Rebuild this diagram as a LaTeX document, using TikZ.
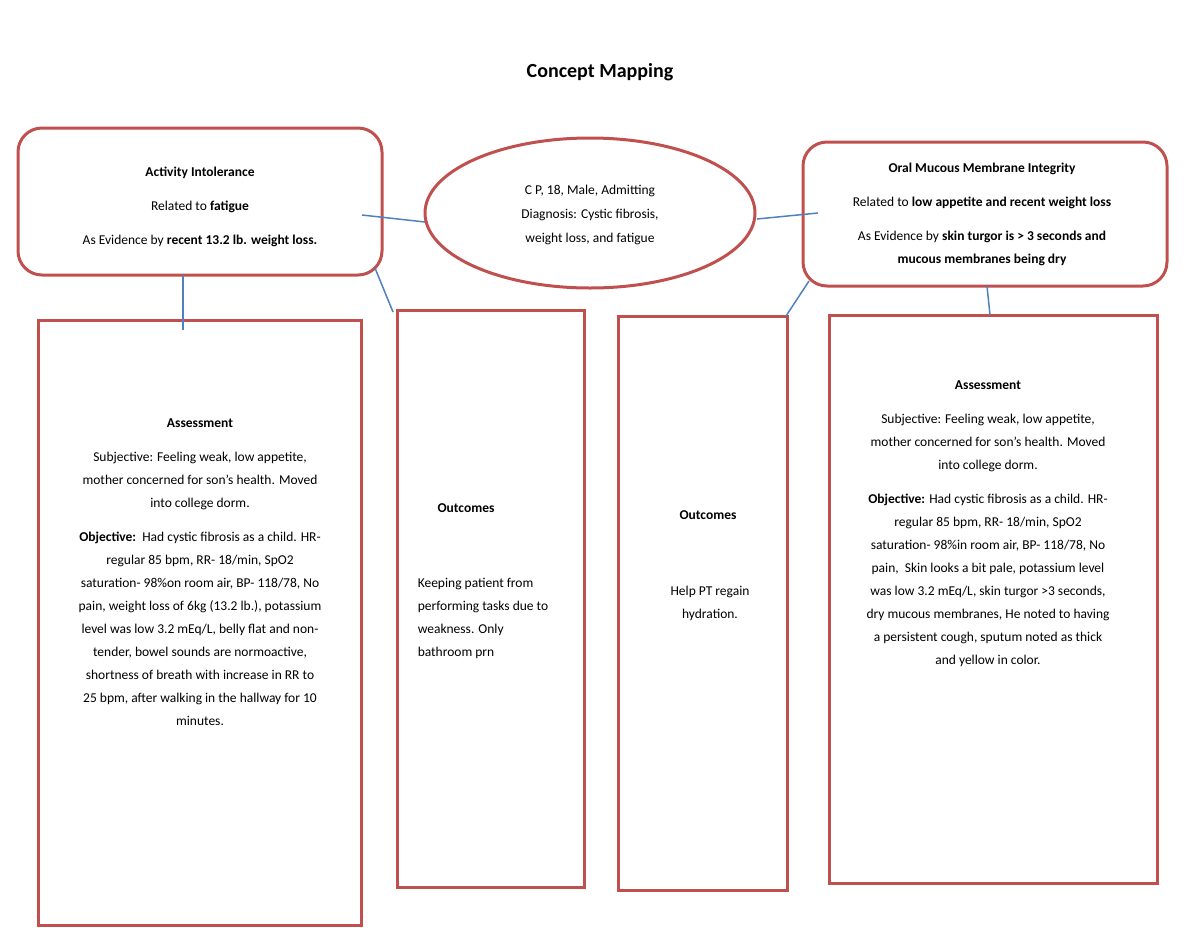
\documentclass[tikz,border=0pt]{standalone}
\usepackage{fontspec}
\setmainfont{Carlito}
\usetikzlibrary{shapes.geometric}
\definecolor{bred}{RGB}{192,80,77}
\definecolor{lblue}{RGB}{79,129,189}
\begin{document}
\begin{tikzpicture}[x=1pt,y=-1pt,
  box/.style={draw=bred,line width=3pt},
  rbox/.style={box,rounded corners=24pt},
  link/.style={draw=lblue,line width=1.5pt},
  txt/.style={align=center,font=\fontsize{13.5}{23}\selectfont}]
\useasboundingbox (0,0) rectangle (1200,927);
\node[font=\fontsize{20}{24}\selectfont\bfseries] (title) at (600,72) {Concept Mapping};
\draw[rbox] (18,128) rectangle (382,275);
\node[txt] (ai) at (200,207) {\textbf{Activity Intolerance}\\[11pt]Related to \textbf{fatigue}\\[11pt]As Evidence by \textbf{recent 13.2 lb. weight loss.}};
\node[ellipse,box,minimum width=330pt,minimum height=150pt] (dx) at (590,213) {};
\node[txt,font=\fontsize{13.5}{24}\selectfont] at (590,215) {C P, 18, Male, Admitting\\Diagnosis: Cystic fibrosis,\\weight loss, and fatigue};
\draw[rbox] (803,142) rectangle (1167,286);
\node[txt] (om) at (982,214) {\textbf{Oral Mucous Membrane Integrity}\\[11pt]Related to \textbf{low appetite and recent weight loss}\\[11pt]As Evidence by \textbf{skin turgor is > 3 seconds and}\\\textbf{mucous membranes being dry}};
\draw[box] (38,320) rectangle (361,925);
\node[txt] (asl) at (200,572) {\textbf{Assessment}\\[11pt]Subjective: Feeling weak, low appetite,\\mother concerned for son’s health. Moved\\into college dorm.\\[11pt]\textbf{Objective:}\ \ Had cystic fibrosis as a child. HR-\\regular 85 bpm, RR- 18/min, SpO2\\saturation- 98\%on room air, BP- 118/78, No\\pain, weight loss of 6kg (13.2 lb.), potassium\\level was low 3.2 mEq/L, belly flat and non-\\tender, bowel sounds are normoactive,\\shortness of breath with increase in RR to\\25 bpm, after walking in the hallway for 10\\minutes.};
\draw[box] (397,310) rectangle (584,887);
\node[txt,font=\fontsize{13.5}{23}\selectfont\bfseries] (o1) at (466,508) {Outcomes};
\node[txt,align=left] (o1t) at (483,618) {Keeping patient from\\performing tasks due to\\weakness. Only\\bathroom prn};
\draw[box] (618,316) rectangle (787,890);
\node[txt,font=\fontsize{13.5}{23}\selectfont\bfseries] (o2) at (708,515) {Outcomes};
\node[txt] (o2t) at (710,603) {Help PT regain\\hydration.};
\draw[box] (829,315) rectangle (1157,883);
\node[txt] (asr) at (988,524) {\textbf{Assessment}\\[11pt]Subjective: Feeling weak, low appetite,\\mother concerned for son’s health. Moved\\into college dorm.\\[11pt]\textbf{Objective:} Had cystic fibrosis as a child. HR-\\regular 85 bpm, RR- 18/min, SpO2\\saturation- 98\%in room air, BP- 118/78, No\\pain,\ \ Skin looks a bit pale, potassium level\\was low 3.2 mEq/L, skin turgor >3 seconds,\\dry mucous membranes, He noted to having\\a persistent cough, sputum noted as thick\\and yellow in color.};
\coordinate (a1) at (362,215); \coordinate (a2) at (425,222);
\coordinate (b1) at (757,219); \coordinate (b2) at (818,213);
\coordinate (c1) at (183,275); \coordinate (c2) at (183,330);
\coordinate (d1) at (375,268); \coordinate (d2) at (393,312);
\coordinate (e1) at (809,281); \coordinate (e2) at (786,316);
\coordinate (f1) at (987,286); \coordinate (f2) at (990,315);
\draw[link] (a1)--(a2); \draw[link] (b1)--(b2); \draw[link] (c1)--(c2);
\draw[link] (d1)--(d2); \draw[link] (e1)--(e2); \draw[link] (f1)--(f2);
\end{tikzpicture}
\end{document}
